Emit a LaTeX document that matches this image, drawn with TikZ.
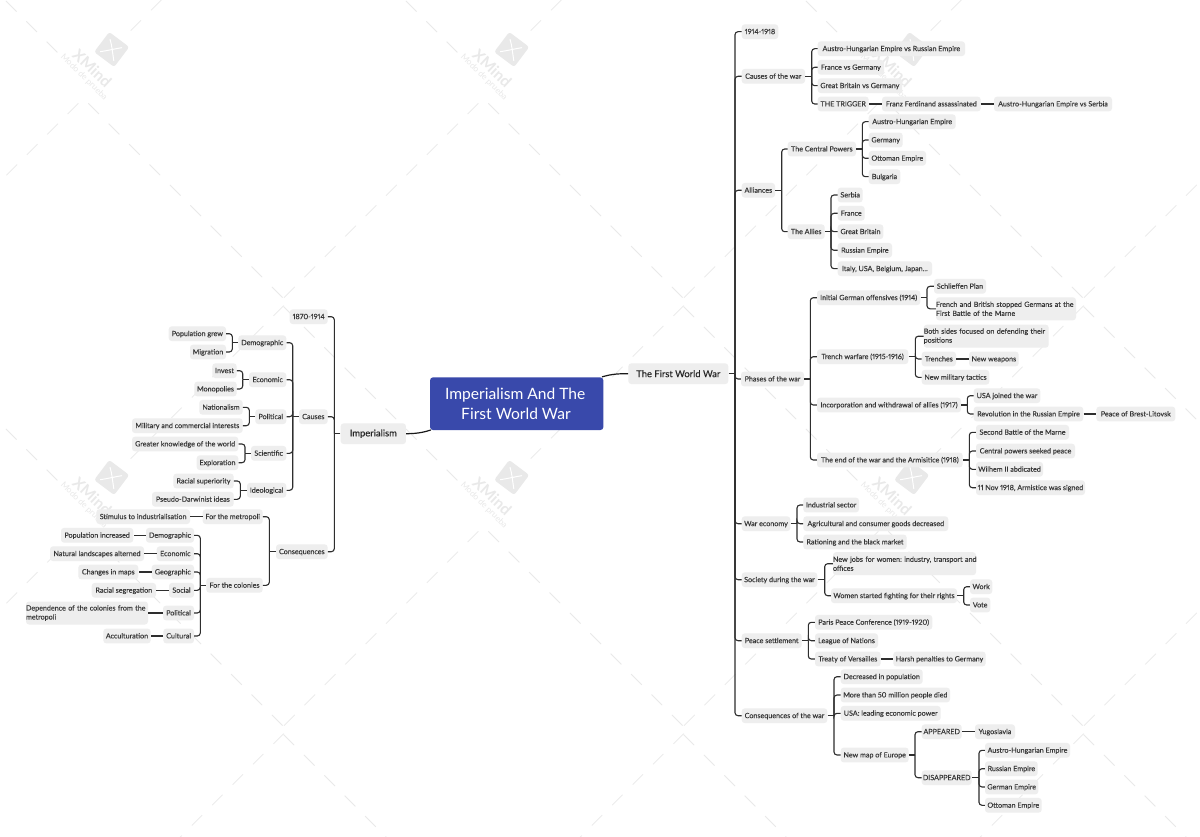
\documentclass[tikz,border=0pt]{standalone}
\usepackage{fontspec}
\setmainfont{Lato}[Numbers=Proportional]
\newfontfamily\bodyfont{Lato}[Numbers=Proportional,FakeBold=0.1]
\newfontfamily\headfont{Lato}[Numbers=Proportional,FakeBold=0.25]
\tikzset{
  wmline/.style={draw=wmgray,line width=0.8pt},
  box/.style={fill=boxgray,rounded corners=3pt,text=txt,inner sep=0pt,font=\bodyfont\fontsize{7.15}{9}\selectfont\frenchspacing,align=left},
  oneline/.style={text height=5.3pt,text depth=0.5pt},
  conn/.style={draw=lnk,line width=1.1pt},
  curved/.style={draw=black!90,line width=1.2pt},
  head/.style={fill=boxgray,rounded corners=3pt,text=black!85,inner sep=0pt,minimum height=20.7pt,font=\headfont\fontsize{9.4}{11}\selectfont},
}
\definecolor{wmgray}{HTML}{E9E9E9}
\definecolor{boxgray}{HTML}{EEEEEE}
\definecolor{txt}{HTML}{383838}
\definecolor{lnk}{HTML}{2E2E2E}
\definecolor{central}{HTML}{3949AB}
% node: id, x0, x1, cy, text
\newcommand\nd[5]{\node[box,oneline,minimum width={(#3-#2)*1pt},minimum height=14.7pt] (#1) at ({(#2+#3)/2},#4) {#5};}
\newcommand\ndd[5]{\node[box,text width={(#3-#2-4)*1pt},minimum height=23pt] (#1) at ({(#2+#3)/2},#4) {#5};}
% right-growing tree: parent, trunk x, children
\newcommand\rtree[3]{\coordinate (tr) at (#2,0);
  \draw[conn] (#1.east) -- (#1.east -| tr);
  \foreach \c in {#3}{\draw[conn,rounded corners=3pt] (#1.east -| tr) |- (\c.west);}}
\newcommand\ltree[3]{\coordinate (tr) at (#2,0);
  \draw[conn] (#1.west) -- (#1.west -| tr);
  \foreach \c in {#3}{\draw[conn,rounded corners=3pt] (#1.west -| tr) |- (\c.east);}}
\newcommand\rlink[2]{\draw[conn] (#1.east) -- (#2.west);}
\newcommand\llink[2]{\draw[conn] (#1.west) -- (#2.east);}
\begin{document}
\begin{tikzpicture}[x=1pt,y=-1pt]
\fill[white] (0,0) rectangle (1200,837);
\useasboundingbox (0,0) rectangle (1200,837);
% watermark
\begin{scope}
\clip (0,0) rectangle (1200,837);
\foreach \i in {0,1,2,3}{\foreach \j in {0,1,2}{
  \begin{scope}[shift={(400*\i,428*\j)}]
    \foreach \k in {0,...,9}{
      \draw[wmline] ({88.3+20.4*\k},{103.3+20.4*\k}) -- ++(10.7,10.7);
      \draw[wmline] ({78.3-20.4*\k},{103.3+20.4*\k}) -- ++(-10.7,10.7);
    }
    \foreach \k in {0,...,7}{\draw[wmline] ({130.7+20.4*\k},{30.7-20.4*\k}) -- ++(10.3,-10.3);}
    \foreach \k in {0,...,8}{\draw[wmline] ({46.7-20.4*\k},{41.7-20.4*\k}) -- ++(10.7,10.7);}
  \end{scope}
}}
\end{scope}
\foreach \i in {0,1,2}{\foreach \j in {0,1}{
  \begin{scope}[shift={(400*\i,428*\j)}]
    \node[fill=wmgray,rounded corners=2.5pt,minimum size=25pt,inner sep=0pt,rotate=-37] at (111.7,49.5) {};
    \draw[white,line width=1pt,line cap=round] (110,39.3) .. controls (112,46) and (112,49) .. (113.8,60.7);
    \draw[white,line width=1pt,line cap=round] (100.3,51.7) .. controls (108,50.5) and (114,49) .. (121.7,47.7);
    \node[text=wmgray,rotate=-43,inner sep=0pt,font=\fontsize{15.5}{15}\selectfont\bfseries] at (92.3,68.3) {XMind};
    \node[text=wmgray,rotate=-45,inner sep=0pt,font=\fontsize{8.5}{9}\selectfont] at (84,77.3) {Modo de prueba};
  \end{scope}
}}
% central
\node[fill=central,rounded corners=3pt,text=white,inner sep=0pt,minimum width=173.3pt,minimum height=52.7pt,align=center,font=\fontsize{15.6}{19.3}\selectfont] (root) at (516.7,403.7) {Imperialism And The\hspace*{3pt}\\First World War\hspace*{1.5pt}};
\node[head,minimum width=100pt] (war) at (678.3,373.7) {The First World War};
\node[head,minimum width=65.3pt] (imp) at (373.3,433.7) {Imperialism};
\draw[curved] (root.north east) ++(-1.5,-0.3) .. controls (612,374) and (618,373.7) .. (war.west);
\draw[curved] (root.south west) ++(1,-0.3) .. controls (422,433) and (414,433.7) .. (imp.east);
% right side level 1
\nd{a}{741.7}{778.3}{31.7}{1914-1918}
\nd{b}{741.7}{805}{76.3}{Causes of the war}
\nd{c}{741.7}{775}{190.3}{Alliances}
\nd{d}{741}{804}{379}{Phases of the war}
\nd{e}{741.7}{790.3}{523.7}{War economy}
\nd{f}{741.7}{817.3}{579.7}{Society during the war}
\nd{g}{741.7}{801.7}{640.7}{Peace settlement}
\nd{h}{741.7}{827.3}{715.7}{Consequences of the war}
% causes
\nd{b1}{817.7}{965}{48.7}{Austro-Hungarian Empire vs Russian Empire}
\nd{b2}{817.7}{884}{67.3}{France vs Germany}
\nd{b3}{817.7}{902}{85.7}{Great Britain vs Germany}
\nd{b4}{817.7}{868.7}{104}{THE TRIGGER}
\nd{b5}{882}{980.7}{104}{Franz Ferdinand assassinated}
\nd{b6}{994}{1112}{104}{Austro-Hungarian Empire vs Serbia}
% alliances
\nd{c1}{787.7}{856}{149}{The Central Powers}
\nd{c2}{787.7}{824.7}{231.7}{The Allies}
\nd{c11}{868.7}{955.7}{121.7}{Austro-Hungarian Empire}
\nd{c12}{868.7}{902.7}{140}{Germany}
\nd{c13}{868.7}{926}{158.3}{Ottoman Empire}
\nd{c14}{868.7}{900.3}{176.7}{Bulgaria}
\nd{c21}{837.7}{862.7}{195}{Serbia}
\nd{c22}{837.7}{864.7}{213.3}{France}
\nd{c23}{837.7}{883.3}{231.7}{Great Britain}
\nd{c24}{837.7}{892}{250.3}{Russian Empire}
\nd{c25}{837.7}{932}{268.7}{Italy, USA, Belgium, Japan...}
% phases
\nd{d1}{817}{920.3}{297.7}{Initial German offensives (1914)}
\nd{d11}{934}{986}{286.3}{Schlieffen Plan}
\ndd{d12}{934}{1078}{308.8}{French and British stopped Germans at the\\First Battle of the Marne}
\nd{d2}{817}{908.3}{356.7}{Trench warfare (1915-1916)}
\ndd{d21}{921.7}{1050.7}{336.2}{Both sides focused on defending their\\positions}
\nd{d22}{921.7}{956}{359}{Trenches}
\nd{d23}{969}{1018.7}{359}{New weapons}
\nd{d24}{921.7}{989.3}{377.3}{New military tactics}
\nd{d3}{817}{961}{405}{Incorporation and withdrawal of allies (1917)}
\nd{d31}{973.7}{1040.3}{395.7}{USA joined the war}
\nd{d32}{973.7}{1083.3}{414}{Revolution in the Russian Empire}
\nd{d33}{1096.3}{1175.3}{414}{Peace of Brest-Litovsk}
\nd{d4}{817}{962.7}{460}{The end of the war and the Armisitice (1918)}
\nd{d41}{976}{1069}{432.3}{Second Battle of the Marne}
\nd{d42}{976}{1075}{451}{Central powers seeked peace}
\nd{d43}{976}{1043}{469.3}{Wilhem II abdicated}
\nd{d44}{976}{1085}{487.7}{11 Nov 1918, Armistice was signed}
% economy
\nd{e1}{803.3}{859}{505}{Industrial sector}
\nd{e2}{803.3}{948.3}{523.7}{Agricultural and consumer goods decreased}
\nd{e3}{803.3}{906.7}{542}{Rationing and the black market}
% society
\ndd{f1}{831}{978}{563.7}{\mbox{New jobs for women: industry, transport and}\\offices}
\nd{f2}{831}{957}{595.7}{Women started fighting for their rights}
\nd{f21}{970}{992.3}{586.7}{Work}
\nd{f22}{970}{990.3}{605}{Vote}
% peace
\nd{g1}{815}{932.3}{622.3}{Paris Peace Conference (1919-1920)}
\nd{g2}{815}{878}{640.7}{League of Nations}
\nd{g3}{815}{880.7}{659}{Treaty of Versailles}
\nd{g4}{893.3}{985.7}{659}{Harsh penalties to Germany}
% consequences
\nd{h1}{840.7}{922.7}{676.7}{Decreased in population}
\nd{h2}{840.7}{950}{695}{More than 50 million people died}
\nd{h3}{840.7}{940.7}{713.3}{USA: leading economic power}
\nd{h4}{840.7}{908.7}{755}{New map of Europe}
\nd{h41}{921.7}{961.7}{731.7}{APPEARED}
\nd{h42}{975}{1015}{731.7}{Yugoslavia}
\nd{h43}{921.7}{971.7}{777.7}{DISAPPEARED}
\nd{h51}{985}{1070}{750.3}{Austro-Hungarian Empire}
\nd{h52}{985}{1037.7}{768.7}{Russian Empire}
\nd{h53}{985}{1038.3}{787}{German Empire}
\nd{h54}{985}{1041.7}{805.3}{Ottoman Empire}
% left side
\nd{i}{289.7}{327.7}{316.7}{1870-1914}
\nd{j}{299}{327.7}{416.7}{Causes}
\nd{k}{276}{327.7}{551.7}{Consequences}
\nd{j1}{238.3}{286.3}{342.7}{Demographic}
\nd{j2}{249}{286.3}{379.7}{Economic}
\nd{j3}{255.3}{286.3}{416.7}{Political}
\nd{j4}{251}{286.3}{453.3}{Scientific}
\nd{j5}{247}{286.3}{490.3}{Ideological}
\nd{j11}{168.7}{226}{333.7}{Population grew}
\nd{j12}{190}{226}{352}{Migration}
\nd{j21}{212.3}{236.7}{370.7}{Invest}
\nd{j22}{194.3}{236.7}{389}{Monopolies}
\nd{j31}{199.3}{242.7}{407.3}{Nationalism}
\nd{j32}{132}{242.7}{425.7}{Military and commercial interests}
\nd{j41}{132}{238.3}{444}{Greater knowledge of the world}
\nd{j42}{196.7}{238.3}{462.7}{Exploration}
\nd{j51}{173.3}{233.7}{481}{Racial superiority}
\nd{j52}{152}{233.7}{499.3}{Pseudo-Darwinist ideas}
\nd{k1}{202.7}{262.7}{516.7}{For the metropoli}
\nd{k11}{96.3}{190}{516.7}{Stimulus to industrialisation}
\nd{k2}{206.3}{262.7}{585.3}{For the colonies}
\nd{k21}{146}{194}{535.3}{Demographic}
\nd{k22}{61}{133.3}{535.3}{Population increased}
\nd{k31}{156.7}{194}{553.7}{Economic}
\nd{k32}{50}{144}{553.7}{Natural landscapes alterned}
\nd{k41}{151.7}{194}{572}{Geographic}
\nd{k42}{78.3}{138.3}{572}{Changes in maps}
\nd{k51}{169}{194}{590.3}{Social}
\nd{k52}{91.7}{156}{590.3}{Racial segregation}
\nd{k61}{163}{194}{613}{Political}
\ndd{k62}{24}{150}{613}{Dependence of the colonies from the\\metropoli}
\nd{k71}{163.3}{194}{636}{Cultural}
\nd{k72}{103.3}{150.7}{636}{Acculturation}
% connectors right
\rtree{war}{735}{a,b,c,d,e,f,g,h}
\rtree{b}{811.7}{b1,b2,b3,b4}
\rlink{b4}{b5}
\rlink{b5}{b6}
\rtree{c}{781.7}{c1,c2}
\rtree{c1}{862.3}{c11,c12,c13,c14}
\rtree{c2}{831}{c21,c22,c23,c24,c25}
\rtree{d}{810.3}{d1,d2,d3,d4}
\rtree{d1}{927}{d11,d12}
\rtree{d2}{915.3}{d21,d22,d24}
\rlink{d22}{d23}
\rtree{d3}{967.3}{d31,d32}
\rlink{d32}{d33}
\rtree{d4}{969.3}{d41,d42,d43,d44}
\rtree{e}{797}{e1,e2,e3}
\rtree{f}{824.7}{f1,f2}
\rtree{f2}{963.7}{f21,f22}
\rtree{g}{808.3}{g1,g2,g3}
\rlink{g3}{g4}
\rtree{h}{834}{h1,h2,h3,h4}
\rtree{h4}{915}{h41,h43}
\rlink{h41}{h42}
\rtree{h43}{979}{h51,h52,h53,h54}
% connectors left
\ltree{imp}{334.3}{i,j,k}
\ltree{j}{292.7}{j1,j2,j3,j4,j5}
\ltree{j1}{232.3}{j11,j12}
\ltree{j2}{242.7}{j21,j22}
\ltree{j3}{249.3}{j31,j32}
\ltree{j4}{245}{j41,j42}
\ltree{j5}{240.3}{j51,j52}
\ltree{k}{269.3}{k1,k2}
\llink{k1}{k11}
\ltree{k2}{200.3}{k21,k31,k41,k51,k61,k71}
\llink{k21}{k22}
\llink{k31}{k32}
\llink{k41}{k42}
\llink{k51}{k52}
\llink{k61}{k62}
\llink{k71}{k72}
\end{tikzpicture}
\end{document}
